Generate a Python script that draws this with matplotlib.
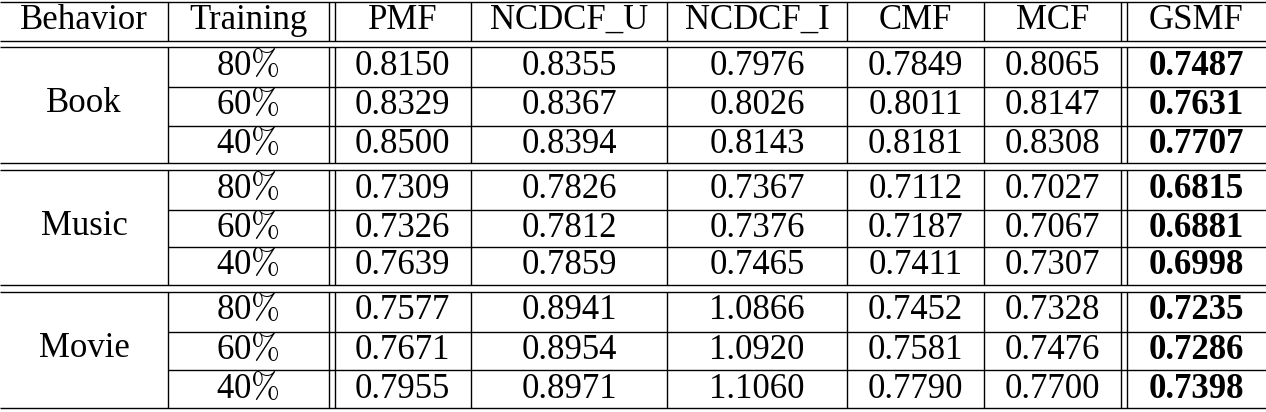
import numpy as np
import matplotlib
matplotlib.use('Agg')
import matplotlib.pyplot as plt

plt.rcParams['font.family'] = ['Liberation Serif', 'DejaVu Serif']
plt.rcParams['mathtext.fontset'] = 'cm'

# table content
headers = ['Behavior', 'Training', 'PMF', 'NCDCF_U', 'NCDCF_I', 'CMF', 'MCF', 'GSMF']
behaviors = ['Book', 'Music', 'Movie']
training = ['80', '60', '40']
pmf = [0.8150, 0.8329, 0.8500, 0.7309, 0.7326, 0.7639, 0.7577, 0.7671, 0.7955]
ncdcf_u = [0.8355, 0.8367, 0.8394, 0.7826, 0.7812, 0.7859, 0.8941, 0.8954, 0.8971]
ncdcf_i = [0.7976, 0.8026, 0.8143, 0.7367, 0.7376, 0.7465, 1.0866, 1.0920, 1.1060]
cmf = [0.7849, 0.8011, 0.8181, 0.7112, 0.7187, 0.7411, 0.7452, 0.7581, 0.7790]
mcf = [0.8065, 0.8147, 0.8308, 0.7027, 0.7067, 0.7307, 0.7328, 0.7476, 0.7700]
gsmf = [0.7487, 0.7631, 0.7707, 0.6815, 0.6881, 0.6998, 0.7235, 0.7286, 0.7398]

W, H = 1266, 412
fig = plt.figure(figsize=(W / 100, H / 100), dpi=100)
ax = fig.add_axes([0, 0, 1, 1])
ax.set_xlim(0, W)
ax.set_ylim(H, 0)
ax.axis('off')

# layout in pixels
vlines = [168, 329, 335, 471, 667, 847, 984, 1120.5, 1127]
centers = [84, 248, 402.5, 569, 757, 915.5, 1052.5, 1196.5]
row_tops = [[47.3, 86.9, 125.9], [170, 209.5, 247], [291.7, 331.7, 370]]
block_edges = [(1.7, 40.7), (47.3, 163.3), (170, 284.5), (291.7, 407.5)]
base_off = 27.5
fs = 25
lw = 1.0
col = 'black'

# horizontal rules
for y in [1.7, 40.7, 47.3, 163.3, 170, 284.5, 291.7, 407.5]:
    ax.plot([0, W], [y, y], color=col, lw=lw, solid_capstyle='butt')
for g in row_tops:
    for y in g[1:]:
        ax.plot([168, W], [y, y], color=col, lw=lw, solid_capstyle='butt')

# vertical rules, broken in the gaps of double rules
for y0, y1 in block_edges:
    for x in vlines:
        ax.plot([x, x], [y0, y1], color=col, lw=lw, solid_capstyle='butt')

# header
for c, h in zip(centers, headers):
    ax.text(c, 28.5, h, ha='center', va='baseline', fontsize=fs)

cols = [pmf, ncdcf_u, ncdcf_i, cmf, mcf, gsmf]
for gi, beh in enumerate(behaviors):
    tops = row_tops[gi]
    ax.text(centers[0], tops[1] + base_off - 2, beh, ha='center', va='baseline', fontsize=fs)
    for ri in range(3):
        k = gi * 3 + ri
        yb = tops[ri] + base_off
        ax.text(centers[1], yb, training[ri] + r'$\%$', ha='center', va='baseline', fontsize=fs)
        for ci, vals in enumerate(cols):
            ax.text(centers[ci + 2], yb, '%.4f' % vals[k], ha='center', va='baseline',
                    fontsize=fs, fontweight='bold' if ci == 5 else 'normal')

fig.savefig('out.png', dpi=100)
